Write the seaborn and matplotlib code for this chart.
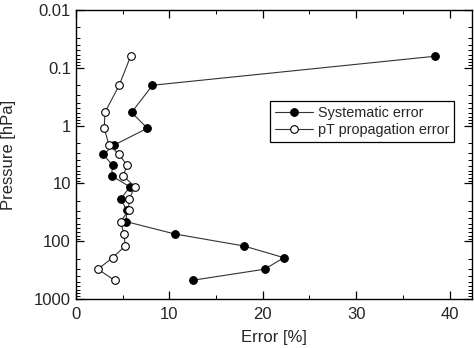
import matplotlib
matplotlib.use("Agg")
import matplotlib.pyplot as plt
import matplotlib.ticker as mticker
import seaborn as sns
import pandas as pd
import numpy as np

pressure = [0.063, 0.2, 0.59, 1.11, 2.17, 3.14, 4.87, 7.36, 11.5, 18.4, 29.2,
            45.9, 75, 121, 193, 306, 475]
systematic = [38.4, 8.2, 5.97, 7.65, 4.1, 2.93, 3.93, 3.82, 5.79, 4.82, 5.43,
              5.39, 10.57, 17.97, 22.26, 20.19, 12.5]
pt_prop = [5.86, 4.64, 3.11, 3.04, 3.54, 4.64, 5.47, 5.07, 6.32, 5.71, 5.64,
           4.79, 5.14, 5.29, 3.93, 2.36, 4.14]
labels = ["Systematic error", "pT propagation error"]
yticks = [0.01, 0.1, 1, 10, 100, 1000]
ytick_labels = ["0.01", "0.1", "1", "10", "100", "1000"]

sns.set_style("ticks")
plt.rcParams['font.family'] = ['Liberation Sans', 'DejaVu Sans']

df = pd.DataFrame({"pressure": pressure * 2,
                   "error": systematic + pt_prop,
                   "series": [labels[0]] * len(pressure) + [labels[1]] * len(pressure)})

fig = plt.figure(figsize=(4.74, 3.48), dpi=100)
ax = fig.add_axes([0.160, 0.141, 0.836, 0.830])

for lab, fc in zip(labels, ["black", "white"]):
    sub = df[df["series"] == lab]
    sns.lineplot(data=sub, x="error", y="pressure", sort=False, estimator=None,
                 color="#333333", linewidth=0.8, marker="o", markersize=5.5,
                 markerfacecolor=fc, markeredgecolor="black", markeredgewidth=0.8,
                 label=lab, ax=ax)

ax.set_yscale("log")
ax.set_ylim(1000, 0.01)
ax.set_xlim(0, 42.4)
ax.set_yticks(yticks)
ax.set_yticklabels(ytick_labels)
ax.yaxis.set_minor_locator(mticker.LogLocator(base=10, subs=np.arange(2, 10)))
ax.yaxis.set_minor_formatter(mticker.NullFormatter())
ax.set_xticks([0, 10, 20, 30, 40])
ax.xaxis.set_minor_locator(mticker.MultipleLocator(5))

ax.tick_params(which="both", direction="in", top=True, right=True, labelsize=12, color="black")
ax.tick_params(which="major", length=6, width=0.9)
ax.tick_params(which="minor", length=3, width=0.7)
ax.tick_params(axis="x", which="major", pad=6)
for s in ax.spines.values():
    s.set_color("black")
    s.set_linewidth(1.0)

ax.set_xlabel("Error [%]", fontsize=12)
ax.set_ylabel("Pressure [hPa]", fontsize=12)
ax.yaxis.set_label_coords(-0.169, 0.5)
ax.xaxis.set_label_coords(0.5, -0.135)
ax.xaxis.label.set_verticalalignment("center")
ax.yaxis.label.set_verticalalignment("center")

leg = ax.legend(loc="upper left", bbox_to_anchor=(0.49, 0.685), fontsize=10.4,
                frameon=True, fancybox=False, edgecolor="black", framealpha=1,
                handlelength=2.6, handletextpad=0.35, borderpad=0.35, labelspacing=0.2,
                borderaxespad=0)
leg.get_frame().set_linewidth(0.9)

fig.savefig("out.png", dpi=100)
